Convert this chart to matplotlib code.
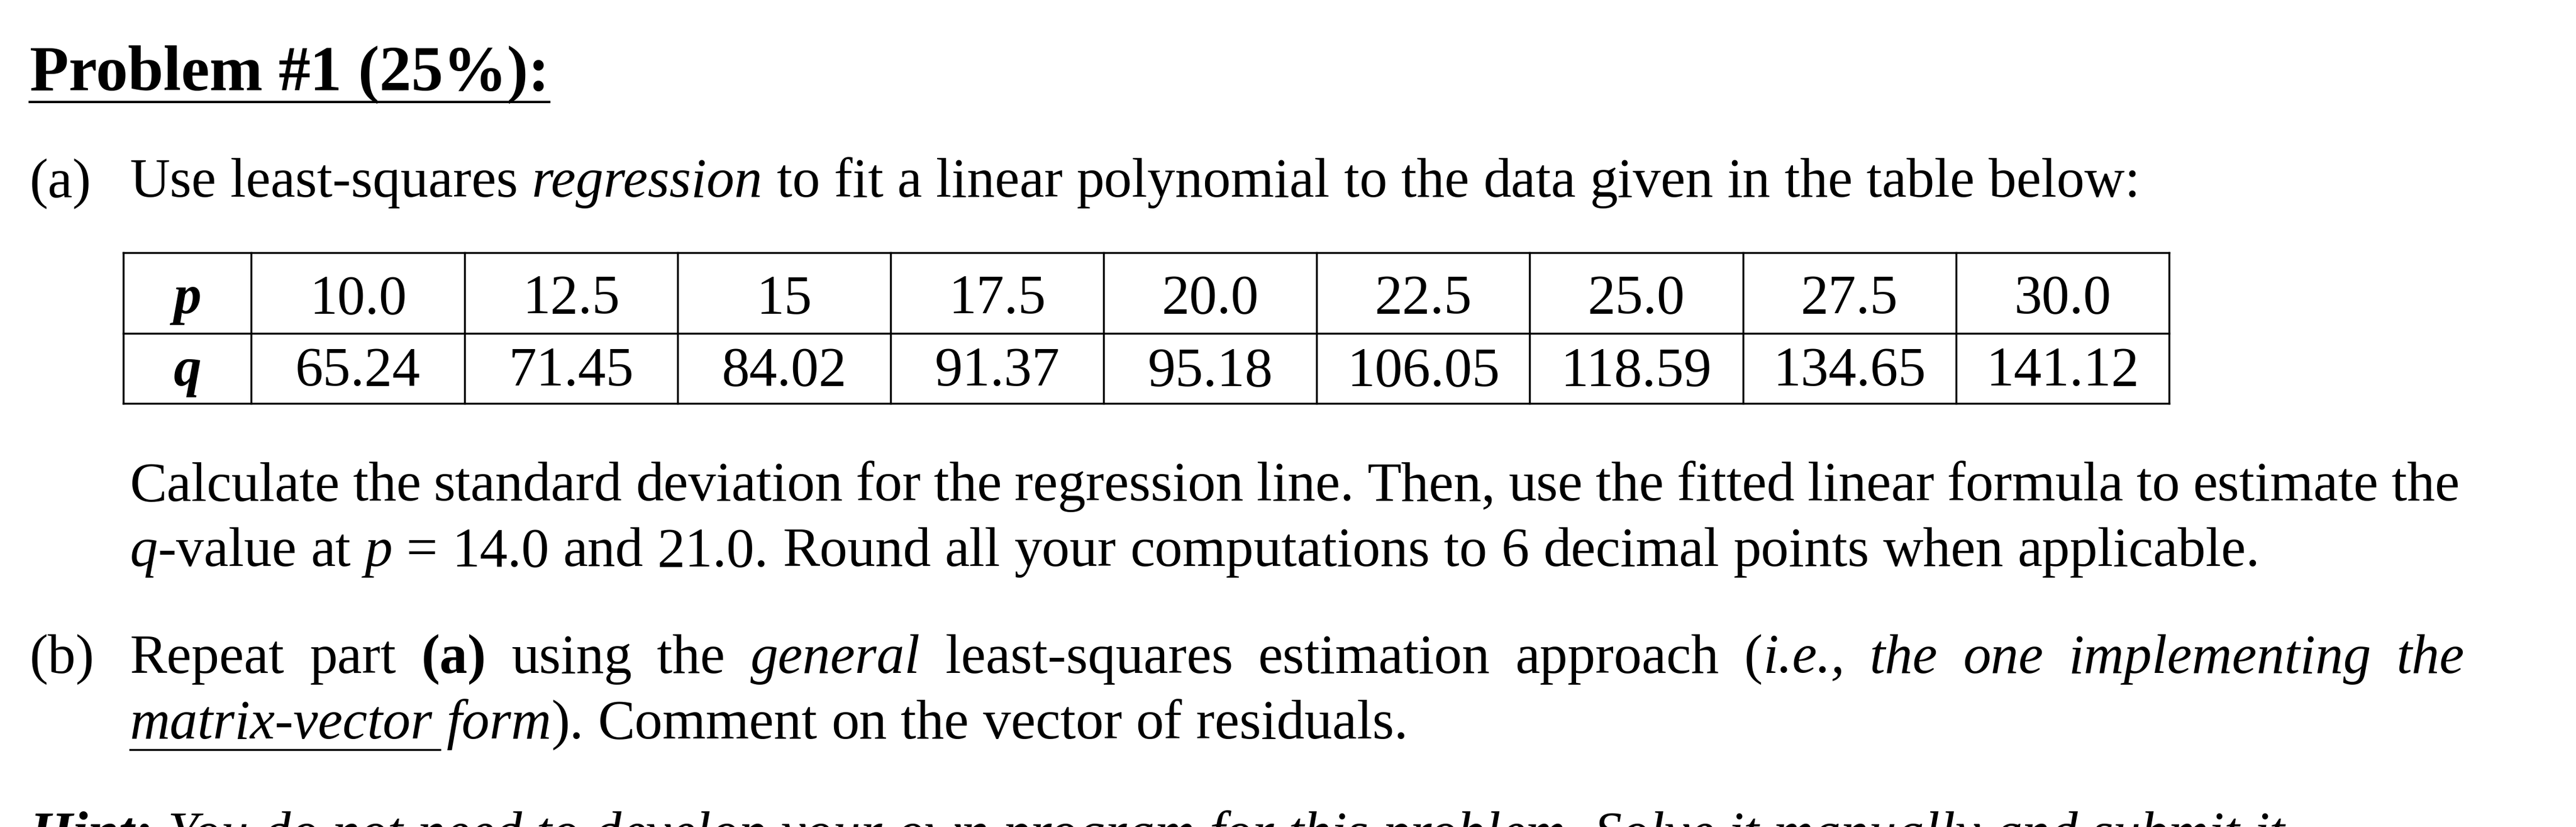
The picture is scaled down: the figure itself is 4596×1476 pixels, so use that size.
import matplotlib
matplotlib.use("Agg")
import matplotlib.pyplot as plt

# Data table
p_values = ["10.0", "12.5", "15", "17.5", "20.0", "22.5", "25.0", "27.5", "30.0"]
q_values = ["65.24", "71.45", "84.02", "91.37", "95.18", "106.05", "118.59", "134.65", "141.12"]

W, H = 1568, 504
FS = 71.5
FAM = "Liberation Serif"
STYLES = {"r": dict(), "i": dict(style="italic"), "b": dict(weight="bold"),
          "bi": dict(style="italic", weight="bold")}

fig = plt.figure(figsize=(45.96, 14.76), dpi=100)
ax = fig.add_axes([0, 0, 1, 1])
ax.set_xlim(0, W)
ax.set_ylim(H, 0)
ax.axis("off")
renderer = fig.canvas.get_renderer()
scale = W / 4596


def measure(txt, st, fs=FS):
    t = ax.text(0, 0, txt, fontsize=fs, family=FAM, **STYLES[st])
    w = t.get_window_extent(renderer).width * scale
    t.remove()
    return w


def draw_line(pieces, x0, y, width=None, fs=FS):
    chunks = []
    pending = False
    for txt, st in pieces:
        parts = txt.split(" ")
        for i, part in enumerate(parts):
            if i > 0:
                pending = True
            if part == "":
                continue
            chunks.append([part, st, pending and bool(chunks)])
            pending = False
    widths = [measure(c[0], c[1], fs) for c in chunks]
    sw = measure("x x", "r", fs) - measure("xx", "r", fs)
    ngaps = sum(1 for c in chunks if c[2])
    if width is not None and ngaps:
        sw = (width - sum(widths)) / ngaps
    x = x0
    pos = []
    for (txt, st, gap), w in zip(chunks, widths):
        if gap:
            x += sw
        ax.text(x, y, txt, fontsize=fs, family=FAM, ha="left", va="baseline", **STYLES[st])
        pos.append((x, x + w))
        x += w
    return pos


# Title
pos = draw_line([("Problem #1 (25%):", "b")], 18, 55, fs=82)
ax.plot([pos[0][0], pos[-1][1]], [62, 62], color="black", lw=3)

# Part (a)
draw_line([("(a)", "r")], 18, 120)
draw_line([("Use least-squares ", "r"), ("regression", "i"),
           (" to fit a linear polynomial to the data given in the table below:", "r")], 79, 120)

# Table
col_edges = [75, 153] + [153 + 129.7 * (i + 1) for i in range(9)]
row_edges = [154, 203, 246]
for xe in col_edges:
    ax.plot([xe, xe], [row_edges[0], row_edges[-1]], color="black", lw=2.5)
for ye in row_edges:
    ax.plot([col_edges[0], col_edges[-1]], [ye, ye], color="black", lw=2.5)
ax.text((col_edges[0] + col_edges[1]) / 2, 191, "p", fontsize=FS, family=FAM,
        ha="center", va="baseline", style="italic", weight="bold")
ax.text((col_edges[0] + col_edges[1]) / 2, 235, "q", fontsize=FS, family=FAM,
        ha="center", va="baseline", style="italic", weight="bold")
for i, (pv, qv) in enumerate(zip(p_values, q_values)):
    xc = (col_edges[i + 1] + col_edges[i + 2]) / 2
    ax.text(xc, 191, pv, fontsize=FS, family=FAM, ha="center", va="baseline")
    ax.text(xc, 235, qv, fontsize=FS, family=FAM, ha="center", va="baseline")

draw_line([("Calculate the standard deviation for the regression line. Then, use the fitted linear formula to estimate the", "r")],
          79, 305, width=1497 - 79)
draw_line([("q", "i"), ("-value at ", "r"), ("p", "i"),
           (" = 14.0 and 21.0. Round all your computations to 6 decimal points when applicable.", "r")], 79, 345)

# Part (b)
draw_line([("(b)", "r")], 18, 410)
draw_line([("Repeat part ", "r"), ("(a)", "b"), (" using the ", "r"), ("general", "i"),
           (" least-squares estimation approach (", "r"), ("i.e., the one implementing the", "i")],
          79, 410, width=1500 - 79)
pos = draw_line([("matrix-vector form", "i"), ("). Comment on the vector of residuals.", "r")], 79, 450)
ax.plot([pos[0][0], pos[1][0] - 4], [457, 457], color="black", lw=2.5)

# Hint (cut off at bottom, as in the reference)
draw_line([("Hint:", "bi"), (" You do not need to develop your own program for this problem. Solve it manually and submit it.", "i")],
          18, 518)

fig.savefig("out.png", dpi=100)
